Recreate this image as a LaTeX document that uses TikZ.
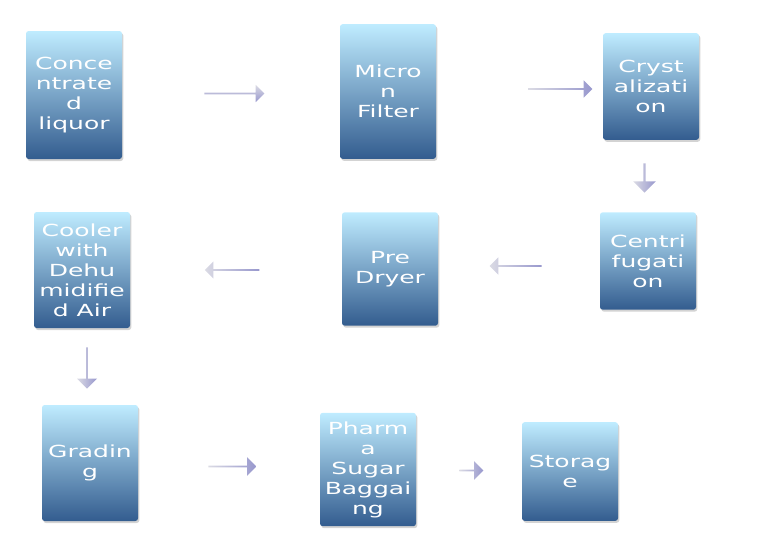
\documentclass[tikz,border=0pt]{standalone}
\usepackage{fontspec}
\newfontfamily\bx{DejaVu Sans}[FakeStretch=1.5]
\usetikzlibrary{shapes.arrows,shadows}
\begin{document}
\begin{tikzpicture}[x=0.75pt,y=-0.75pt,
 box/.style={rectangle,rounded corners=2pt,top color=blue!30!cyan!25!white,bottom color=blue!55!cyan!45!black!80,
   draw=none,drop shadow={shadow xshift=1pt,shadow yshift=-1.5pt,opacity=0.35},text=white,align=center,
   font=\bx\fontsize{12.5}{15}\selectfont,inner sep=1pt},
 arr/.style={single arrow,draw=none,left color=blue!15!gray!25,right color=blue!35!gray!60,
   single arrow head extend=2pt,inner sep=0pt,minimum height=#1},
]
\useasboundingbox (0,0) rectangle (768,543);
\tikzset{every node/.append style={}}
\newcommand\bxn[6]{\node[box,minimum width=#3*0.75pt,minimum height=#4*0.75pt] (#1) at (#2) {#5};}
\node[box,minimum width=72pt,minimum height=96pt] (b1) at (74,95) {Conce\\ntrate\\d\\liquor};
\node[box,minimum width=72pt,minimum height=101pt] (b2) at (388,91.5) {Micro\\n\\Filter};
\node[box,minimum width=72pt,minimum height=80pt] (b3) at (651,86.5) {Cryst\\alizati\\on};
\node[box,minimum width=72pt,minimum height=73pt] (b4) at (648,261) {Centri\\fugati\\on};
\node[box,minimum width=72pt,minimum height=85pt] (b5) at (390,269) {Pre\\Dryer};
\node[box,minimum width=72pt,minimum height=87pt] (b6) at (82,270) {Cooler\\with\\Dehu\\midifie\\d Air};
\node[box,minimum width=72pt,minimum height=87pt] (b7) at (90,463) {Gradin\\g};
\node[box,minimum width=72pt,minimum height=85pt] (b8) at (368,469.5) {Pharm\\a\\Sugar\\Baggai\\ng};
\node[box,minimum width=72pt,minimum height=74pt] (b9) at (570,471.5) {Storag\\e};
\node[arr=45pt,minimum width=13pt,shading angle=0] (a1) at (234,93.5) {};
\node[arr=48pt,minimum width=13pt] (a2) at (560,89) {};
\node[arr=22pt,minimum width=17pt,shape border rotate=270] (a3) at (644.5,177.5) {};
\node[arr=39pt,minimum width=13pt,shape border rotate=180] (a4) at (516,266) {};
\node[arr=41pt,minimum width=13pt,shape border rotate=180] (a5) at (232.5,270) {};
\node[arr=31pt,minimum width=15pt,shape border rotate=270] (a6) at (87,367.5) {};
\node[arr=36pt,minimum width=14pt] (a7) at (232,466.5) {};
\node[arr=18pt,minimum width=14pt] (a8) at (471,470.5) {};
\end{tikzpicture}
\end{document}
